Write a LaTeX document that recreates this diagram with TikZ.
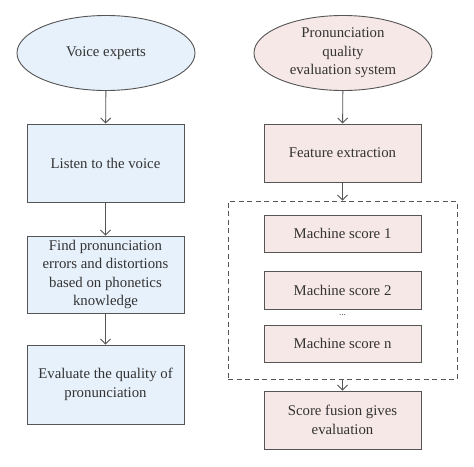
\documentclass[tikz,border=0pt]{standalone}
\usepackage{fontspec}
\setmainfont{Liberation Serif}
\usepackage{tikz}
\usetikzlibrary{shapes.geometric,arrows.meta}
\definecolor{lightblue}{RGB}{231,241,251}
\definecolor{lightpink}{RGB}{246,232,230}
\definecolor{edgegray}{RGB}{85,85,85}
\definecolor{textgray}{RGB}{51,51,51}
\begin{document}
\begin{tikzpicture}[x=1pt,y=-1pt]
            \tikzstyle{every node}=[text=textgray,font=\fontsize{14.8}{18.5}\selectfont,align=center]
            \tikzstyle{bluebox}=[rectangle,draw=edgegray,line width=0.9pt,fill=lightblue,inner sep=0pt,minimum width=157pt]
            \tikzstyle{pinkbox}=[rectangle,draw=edgegray,line width=0.9pt,fill=lightpink,inner sep=0pt,minimum width=157pt]
            \tikzstyle{blueell}=[ellipse,draw=edgegray,line width=0.9pt,fill=lightblue,inner sep=0pt,minimum width=178pt,minimum height=75pt]
            \tikzstyle{pinkell}=[ellipse,draw=edgegray,line width=0.9pt,fill=lightpink,inner sep=0pt,minimum width=178pt,minimum height=75pt]
            \tikzstyle{group}=[rectangle,draw=edgegray,line width=0.9pt,dash pattern=on 5pt off 3.5pt,minimum width=229pt,minimum height=178pt]
            \tikzstyle{arr}=[draw=edgegray,line width=0.9pt,-{Straight Barb[length=5pt,width=10pt]}]
            \useasboundingbox[fill=white] (0,0) rectangle (474,466);
            % left column
            \node[blueell] (ve) at (106,53) {Voice experts};
            \node[bluebox,minimum height=78pt] (lv) at (105.5,163) {Listen to the voice};
            \node[bluebox,minimum height=77pt] (fp) at (105.5,274.5) {Find pronunciation\\errors and distortions\\based on phonetics\\knowledge};
            \node[bluebox,minimum height=79pt] (eq) at (105.5,384.5) {Evaluate the quality of\\pronunciation};
            \draw[arr] (ve) -- (lv);
            \draw[arr] (lv) -- (fp);
            \draw[arr] (fp) -- (eq);
            % right column
            \node[pinkell] (pq) at (343,53) {Pronunciation\\quality\\evaluation system};
            \node[pinkbox,minimum height=58pt] (fe) at (342.5,153) {Feature extraction};
            \node[group] (grp) at (342.5,290) {};
            \node[pinkbox,minimum height=37pt] (ms1) at (342.5,233.5) {Machine score 1};
            \node[pinkbox,minimum height=38pt] (ms2) at (342.5,290) {Machine score 2};
            \node[font=\fontsize{9}{9}\selectfont,inner sep=0pt,anchor=base] (dots) at (342.5,315) {...};
            \node[pinkbox,minimum height=37pt] (msn) at (342.5,343.5) {Machine score n};
            \node[pinkbox,minimum height=58pt] (sf) at (342.5,420) {Score fusion gives\\evaluation};
            \draw[arr] (pq) -- (fe);
            \draw[arr] (fe) -- (grp);
            \draw[arr] (grp) -- (sf);
        \end{tikzpicture}
\end{document}
